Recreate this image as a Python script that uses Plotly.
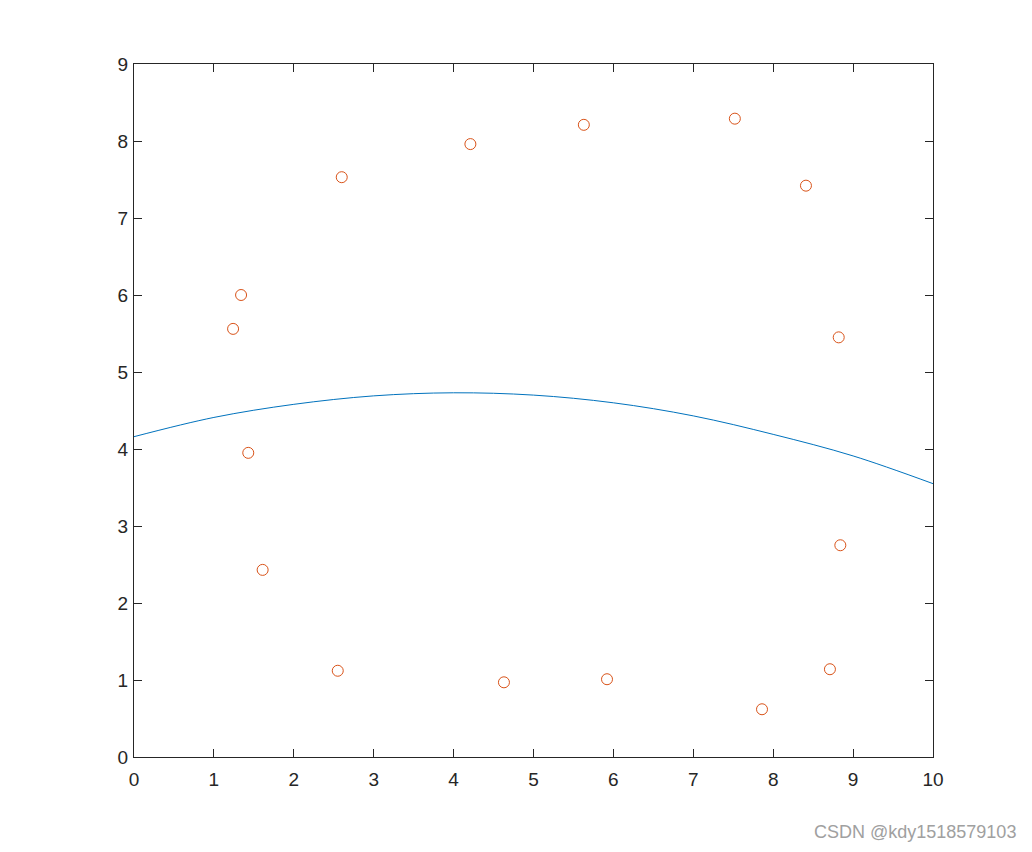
import plotly.graph_objects as go

# scatter data
pts_x = [1.24, 1.34, 1.43, 1.61, 2.55, 2.60, 4.21, 4.63, 5.63, 5.92, 7.52, 7.86, 8.41, 8.71, 8.82, 8.84]
pts_y = [5.56, 6.00, 3.95, 2.43, 1.12, 7.53, 7.96, 0.97, 8.21, 1.01, 8.29, 0.62, 7.42, 1.14, 5.45, 2.75]

# fitted curve
curve_x = [0, 1, 2, 3, 4, 5, 6, 7, 8, 9, 10]
curve_y = [4.16, 4.41, 4.58, 4.69, 4.73, 4.70, 4.60, 4.43, 4.19, 3.91, 3.55]

tick_vals_x = list(range(0, 11))
tick_vals_y = list(range(0, 10))

fig = go.Figure()
fig.add_trace(go.Scatter(x=curve_x, y=curve_y, mode="lines",
                         line=dict(color="#0072BD", width=1, shape="spline"),
                         showlegend=False))
fig.add_trace(go.Scatter(x=pts_x, y=pts_y, mode="markers",
                         marker=dict(symbol="circle-open", size=11,
                                     color="#D95319", line=dict(width=1)),
                         showlegend=False))

axis_common = dict(showline=True, linecolor="#262626", linewidth=1, mirror="ticks",
                   ticks="inside", ticklen=8, tickcolor="#262626", tickwidth=1,
                   showgrid=False, zeroline=False,
                   tickfont=dict(family="Liberation Sans, Arial, sans-serif", size=19, color="#262626"))

fig.update_xaxes(range=[0, 10], tickvals=tick_vals_x, ticklabelstandoff=5, **axis_common)
fig.update_yaxes(range=[0, 9], tickvals=tick_vals_y, ticklabelstandoff=1, **axis_common)

fig.add_annotation(text="CSDN @kdy1518579103", xref="paper", yref="paper",
                   x=1.0, y=0, xshift=85, yshift=-75, xanchor="right", yanchor="middle",
                   showarrow=False,
                   font=dict(family="Liberation Sans, Arial, sans-serif", size=18, color="#a0a0a0"))

fig.update_layout(width=1032, height=852, margin=dict(l=126, r=107, t=56, b=103),
                  plot_bgcolor="white", paper_bgcolor="white")

fig.write_html("out.html")
